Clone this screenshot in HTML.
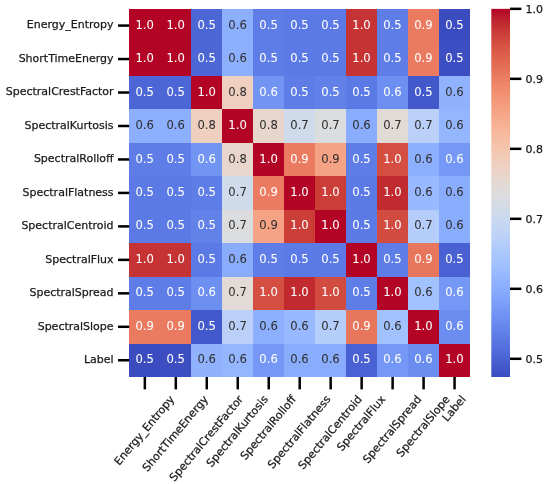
<!DOCTYPE html><html><head><meta charset="utf-8"><title>Correlation heatmap</title>
<style>html,body{margin:0;padding:0;background:#fff}svg{display:block;filter:blur(0.35px)}text{font-family:"DejaVu Sans","Liberation Sans",sans-serif}</style></head><body>
<svg width="550" height="484" viewBox="0 0 550 484">
<defs><linearGradient id="cb" x1="0" y1="1" x2="0" y2="0">
<stop offset="0.0000" stop-color="#3b4cc0"/>
<stop offset="0.0312" stop-color="#445acc"/>
<stop offset="0.0625" stop-color="#4e68d8"/>
<stop offset="0.0938" stop-color="#5875e1"/>
<stop offset="0.1250" stop-color="#6282ea"/>
<stop offset="0.1562" stop-color="#6c8ff1"/>
<stop offset="0.1875" stop-color="#779af7"/>
<stop offset="0.2188" stop-color="#82a6fb"/>
<stop offset="0.2500" stop-color="#8db0fe"/>
<stop offset="0.2812" stop-color="#98b9ff"/>
<stop offset="0.3125" stop-color="#a3c2fe"/>
<stop offset="0.3438" stop-color="#aec9fc"/>
<stop offset="0.3750" stop-color="#b9d0f9"/>
<stop offset="0.4062" stop-color="#c3d5f4"/>
<stop offset="0.4375" stop-color="#ccd9ed"/>
<stop offset="0.4688" stop-color="#d5dbe5"/>
<stop offset="0.5000" stop-color="#dddcdc"/>
<stop offset="0.5312" stop-color="#e5d8d1"/>
<stop offset="0.5625" stop-color="#ecd3c5"/>
<stop offset="0.5938" stop-color="#f1ccb8"/>
<stop offset="0.6250" stop-color="#f5c4ac"/>
<stop offset="0.6562" stop-color="#f7ba9f"/>
<stop offset="0.6875" stop-color="#f7b093"/>
<stop offset="0.7188" stop-color="#f6a586"/>
<stop offset="0.7500" stop-color="#f4987a"/>
<stop offset="0.7812" stop-color="#f08b6e"/>
<stop offset="0.8125" stop-color="#eb7d62"/>
<stop offset="0.8438" stop-color="#e46e56"/>
<stop offset="0.8750" stop-color="#dd5f4b"/>
<stop offset="0.9062" stop-color="#d44e41"/>
<stop offset="0.9375" stop-color="#ca3b37"/>
<stop offset="0.9688" stop-color="#be242e"/>
<stop offset="1.0000" stop-color="#b40426"/>
</linearGradient></defs>
<rect width="550" height="484" fill="#fff"/>
<g shape-rendering="crispEdges">
<rect x="129.20" y="8.85" width="31.27" height="33.77" fill="#b40426"/>
<rect x="160.17" y="8.85" width="31.27" height="33.77" fill="#b40426"/>
<rect x="191.15" y="8.85" width="31.27" height="33.77" fill="#4c66d6"/>
<rect x="222.12" y="8.85" width="31.27" height="33.77" fill="#8caffe"/>
<rect x="253.09" y="8.85" width="31.27" height="33.77" fill="#5e7de7"/>
<rect x="284.06" y="8.85" width="31.27" height="33.77" fill="#5b7ae5"/>
<rect x="315.04" y="8.85" width="31.27" height="33.77" fill="#5b7ae5"/>
<rect x="346.01" y="8.85" width="31.27" height="33.77" fill="#c53334"/>
<rect x="376.98" y="8.85" width="31.27" height="33.77" fill="#5e7de7"/>
<rect x="407.95" y="8.85" width="31.27" height="33.77" fill="#ea7b60"/>
<rect x="438.93" y="8.85" width="30.97" height="33.77" fill="#3b4cc0"/>
<rect x="129.20" y="42.32" width="31.27" height="33.77" fill="#b40426"/>
<rect x="160.17" y="42.32" width="31.27" height="33.77" fill="#b40426"/>
<rect x="191.15" y="42.32" width="31.27" height="33.77" fill="#4c66d6"/>
<rect x="222.12" y="42.32" width="31.27" height="33.77" fill="#8caffe"/>
<rect x="253.09" y="42.32" width="31.27" height="33.77" fill="#5e7de7"/>
<rect x="284.06" y="42.32" width="31.27" height="33.77" fill="#5b7ae5"/>
<rect x="315.04" y="42.32" width="31.27" height="33.77" fill="#5b7ae5"/>
<rect x="346.01" y="42.32" width="31.27" height="33.77" fill="#c53334"/>
<rect x="376.98" y="42.32" width="31.27" height="33.77" fill="#5e7de7"/>
<rect x="407.95" y="42.32" width="31.27" height="33.77" fill="#ea7b60"/>
<rect x="438.93" y="42.32" width="30.97" height="33.77" fill="#3c4ec2"/>
<rect x="129.20" y="75.79" width="31.27" height="33.77" fill="#4c66d6"/>
<rect x="160.17" y="75.79" width="31.27" height="33.77" fill="#4c66d6"/>
<rect x="191.15" y="75.79" width="31.27" height="33.77" fill="#b40426"/>
<rect x="222.12" y="75.79" width="31.27" height="33.77" fill="#efcfbf"/>
<rect x="253.09" y="75.79" width="31.27" height="33.77" fill="#7295f4"/>
<rect x="284.06" y="75.79" width="31.27" height="33.77" fill="#5e7de7"/>
<rect x="315.04" y="75.79" width="31.27" height="33.77" fill="#6282ea"/>
<rect x="346.01" y="75.79" width="31.27" height="33.77" fill="#5b7ae5"/>
<rect x="376.98" y="75.79" width="31.27" height="33.77" fill="#6c8ff1"/>
<rect x="407.95" y="75.79" width="31.27" height="33.77" fill="#4358cb"/>
<rect x="438.93" y="75.79" width="30.97" height="33.77" fill="#90b2fe"/>
<rect x="129.20" y="109.25" width="31.27" height="33.77" fill="#8caffe"/>
<rect x="160.17" y="109.25" width="31.27" height="33.77" fill="#8caffe"/>
<rect x="191.15" y="109.25" width="31.27" height="33.77" fill="#efcfbf"/>
<rect x="222.12" y="109.25" width="31.27" height="33.77" fill="#b40426"/>
<rect x="253.09" y="109.25" width="31.27" height="33.77" fill="#e8d6cc"/>
<rect x="284.06" y="109.25" width="31.27" height="33.77" fill="#cfdaea"/>
<rect x="315.04" y="109.25" width="31.27" height="33.77" fill="#dbdcde"/>
<rect x="346.01" y="109.25" width="31.27" height="33.77" fill="#89acfd"/>
<rect x="376.98" y="109.25" width="31.27" height="33.77" fill="#e2dad5"/>
<rect x="407.95" y="109.25" width="31.27" height="33.77" fill="#bad0f8"/>
<rect x="438.93" y="109.25" width="30.97" height="33.77" fill="#94b6ff"/>
<rect x="129.20" y="142.72" width="31.27" height="33.77" fill="#5e7de7"/>
<rect x="160.17" y="142.72" width="31.27" height="33.77" fill="#5e7de7"/>
<rect x="191.15" y="142.72" width="31.27" height="33.77" fill="#7295f4"/>
<rect x="222.12" y="142.72" width="31.27" height="33.77" fill="#e8d6cc"/>
<rect x="253.09" y="142.72" width="31.27" height="33.77" fill="#b40426"/>
<rect x="284.06" y="142.72" width="31.27" height="33.77" fill="#ea7b60"/>
<rect x="315.04" y="142.72" width="31.27" height="33.77" fill="#f6a385"/>
<rect x="346.01" y="142.72" width="31.27" height="33.77" fill="#5e7de7"/>
<rect x="376.98" y="142.72" width="31.27" height="33.77" fill="#d44e41"/>
<rect x="407.95" y="142.72" width="31.27" height="33.77" fill="#8db0fe"/>
<rect x="438.93" y="142.72" width="30.97" height="33.77" fill="#7597f6"/>
<rect x="129.20" y="176.19" width="31.27" height="33.77" fill="#5b7ae5"/>
<rect x="160.17" y="176.19" width="31.27" height="33.77" fill="#5b7ae5"/>
<rect x="191.15" y="176.19" width="31.27" height="33.77" fill="#5e7de7"/>
<rect x="222.12" y="176.19" width="31.27" height="33.77" fill="#cfdaea"/>
<rect x="253.09" y="176.19" width="31.27" height="33.77" fill="#ea7b60"/>
<rect x="284.06" y="176.19" width="31.27" height="33.77" fill="#b40426"/>
<rect x="315.04" y="176.19" width="31.27" height="33.77" fill="#cb3e38"/>
<rect x="346.01" y="176.19" width="31.27" height="33.77" fill="#5b7ae5"/>
<rect x="376.98" y="176.19" width="31.27" height="33.77" fill="#c12b30"/>
<rect x="407.95" y="176.19" width="31.27" height="33.77" fill="#98b9ff"/>
<rect x="438.93" y="176.19" width="30.97" height="33.77" fill="#89acfd"/>
<rect x="129.20" y="209.66" width="31.27" height="33.77" fill="#5b7ae5"/>
<rect x="160.17" y="209.66" width="31.27" height="33.77" fill="#5b7ae5"/>
<rect x="191.15" y="209.66" width="31.27" height="33.77" fill="#6282ea"/>
<rect x="222.12" y="209.66" width="31.27" height="33.77" fill="#dbdcde"/>
<rect x="253.09" y="209.66" width="31.27" height="33.77" fill="#f6a385"/>
<rect x="284.06" y="209.66" width="31.27" height="33.77" fill="#cb3e38"/>
<rect x="315.04" y="209.66" width="31.27" height="33.77" fill="#b40426"/>
<rect x="346.01" y="209.66" width="31.27" height="33.77" fill="#5b7ae5"/>
<rect x="376.98" y="209.66" width="31.27" height="33.77" fill="#d24b40"/>
<rect x="407.95" y="209.66" width="31.27" height="33.77" fill="#b5cdfa"/>
<rect x="438.93" y="209.66" width="30.97" height="33.77" fill="#89acfd"/>
<rect x="129.20" y="243.13" width="31.27" height="33.77" fill="#c53334"/>
<rect x="160.17" y="243.13" width="31.27" height="33.77" fill="#c53334"/>
<rect x="191.15" y="243.13" width="31.27" height="33.77" fill="#5b7ae5"/>
<rect x="222.12" y="243.13" width="31.27" height="33.77" fill="#89acfd"/>
<rect x="253.09" y="243.13" width="31.27" height="33.77" fill="#5e7de7"/>
<rect x="284.06" y="243.13" width="31.27" height="33.77" fill="#5b7ae5"/>
<rect x="315.04" y="243.13" width="31.27" height="33.77" fill="#5b7ae5"/>
<rect x="346.01" y="243.13" width="31.27" height="33.77" fill="#b40426"/>
<rect x="376.98" y="243.13" width="31.27" height="33.77" fill="#5e7de7"/>
<rect x="407.95" y="243.13" width="31.27" height="33.77" fill="#e8765c"/>
<rect x="438.93" y="243.13" width="30.97" height="33.77" fill="#4961d2"/>
<rect x="129.20" y="276.60" width="31.27" height="33.77" fill="#5e7de7"/>
<rect x="160.17" y="276.60" width="31.27" height="33.77" fill="#5e7de7"/>
<rect x="191.15" y="276.60" width="31.27" height="33.77" fill="#6c8ff1"/>
<rect x="222.12" y="276.60" width="31.27" height="33.77" fill="#e2dad5"/>
<rect x="253.09" y="276.60" width="31.27" height="33.77" fill="#d44e41"/>
<rect x="284.06" y="276.60" width="31.27" height="33.77" fill="#c12b30"/>
<rect x="315.04" y="276.60" width="31.27" height="33.77" fill="#d24b40"/>
<rect x="346.01" y="276.60" width="31.27" height="33.77" fill="#5e7de7"/>
<rect x="376.98" y="276.60" width="31.27" height="33.77" fill="#b40426"/>
<rect x="407.95" y="276.60" width="31.27" height="33.77" fill="#a2c1ff"/>
<rect x="438.93" y="276.60" width="30.97" height="33.77" fill="#7597f6"/>
<rect x="129.20" y="310.06" width="31.27" height="33.77" fill="#ea7b60"/>
<rect x="160.17" y="310.06" width="31.27" height="33.77" fill="#ea7b60"/>
<rect x="191.15" y="310.06" width="31.27" height="33.77" fill="#4358cb"/>
<rect x="222.12" y="310.06" width="31.27" height="33.77" fill="#bad0f8"/>
<rect x="253.09" y="310.06" width="31.27" height="33.77" fill="#8db0fe"/>
<rect x="284.06" y="310.06" width="31.27" height="33.77" fill="#98b9ff"/>
<rect x="315.04" y="310.06" width="31.27" height="33.77" fill="#b5cdfa"/>
<rect x="346.01" y="310.06" width="31.27" height="33.77" fill="#e8765c"/>
<rect x="376.98" y="310.06" width="31.27" height="33.77" fill="#a2c1ff"/>
<rect x="407.95" y="310.06" width="31.27" height="33.77" fill="#b40426"/>
<rect x="438.93" y="310.06" width="30.97" height="33.77" fill="#6b8df0"/>
<rect x="129.20" y="343.53" width="31.27" height="33.47" fill="#3b4cc0"/>
<rect x="160.17" y="343.53" width="31.27" height="33.47" fill="#3c4ec2"/>
<rect x="191.15" y="343.53" width="31.27" height="33.47" fill="#90b2fe"/>
<rect x="222.12" y="343.53" width="31.27" height="33.47" fill="#94b6ff"/>
<rect x="253.09" y="343.53" width="31.27" height="33.47" fill="#7597f6"/>
<rect x="284.06" y="343.53" width="31.27" height="33.47" fill="#89acfd"/>
<rect x="315.04" y="343.53" width="31.27" height="33.47" fill="#89acfd"/>
<rect x="346.01" y="343.53" width="31.27" height="33.47" fill="#4961d2"/>
<rect x="376.98" y="343.53" width="31.27" height="33.47" fill="#7597f6"/>
<rect x="407.95" y="343.53" width="31.27" height="33.47" fill="#6b8df0"/>
<rect x="438.93" y="343.53" width="30.97" height="33.47" fill="#b40426"/>
</g>
<g font-size="11.60" text-anchor="middle" stroke-width="0.05">
<text x="144.69" y="28.68" fill="#ffffff" stroke="#ffffff">1.0</text>
<text x="175.66" y="28.68" fill="#ffffff" stroke="#ffffff">1.0</text>
<text x="206.63" y="28.68" fill="#ffffff" stroke="#ffffff">0.5</text>
<text x="237.60" y="28.68" fill="#303030" stroke="#303030">0.6</text>
<text x="268.58" y="28.68" fill="#ffffff" stroke="#ffffff">0.5</text>
<text x="299.55" y="28.68" fill="#ffffff" stroke="#ffffff">0.5</text>
<text x="330.52" y="28.68" fill="#ffffff" stroke="#ffffff">0.5</text>
<text x="361.50" y="28.68" fill="#ffffff" stroke="#ffffff">1.0</text>
<text x="392.47" y="28.68" fill="#ffffff" stroke="#ffffff">0.5</text>
<text x="423.44" y="28.68" fill="#ffffff" stroke="#ffffff">0.9</text>
<text x="454.41" y="28.68" fill="#ffffff" stroke="#ffffff">0.5</text>
<text x="144.69" y="62.15" fill="#ffffff" stroke="#ffffff">1.0</text>
<text x="175.66" y="62.15" fill="#ffffff" stroke="#ffffff">1.0</text>
<text x="206.63" y="62.15" fill="#ffffff" stroke="#ffffff">0.5</text>
<text x="237.60" y="62.15" fill="#303030" stroke="#303030">0.6</text>
<text x="268.58" y="62.15" fill="#ffffff" stroke="#ffffff">0.5</text>
<text x="299.55" y="62.15" fill="#ffffff" stroke="#ffffff">0.5</text>
<text x="330.52" y="62.15" fill="#ffffff" stroke="#ffffff">0.5</text>
<text x="361.50" y="62.15" fill="#ffffff" stroke="#ffffff">1.0</text>
<text x="392.47" y="62.15" fill="#ffffff" stroke="#ffffff">0.5</text>
<text x="423.44" y="62.15" fill="#ffffff" stroke="#ffffff">0.9</text>
<text x="454.41" y="62.15" fill="#ffffff" stroke="#ffffff">0.5</text>
<text x="144.69" y="95.62" fill="#ffffff" stroke="#ffffff">0.5</text>
<text x="175.66" y="95.62" fill="#ffffff" stroke="#ffffff">0.5</text>
<text x="206.63" y="95.62" fill="#ffffff" stroke="#ffffff">1.0</text>
<text x="237.60" y="95.62" fill="#303030" stroke="#303030">0.8</text>
<text x="268.58" y="95.62" fill="#ffffff" stroke="#ffffff">0.6</text>
<text x="299.55" y="95.62" fill="#ffffff" stroke="#ffffff">0.5</text>
<text x="330.52" y="95.62" fill="#ffffff" stroke="#ffffff">0.5</text>
<text x="361.50" y="95.62" fill="#ffffff" stroke="#ffffff">0.5</text>
<text x="392.47" y="95.62" fill="#ffffff" stroke="#ffffff">0.6</text>
<text x="423.44" y="95.62" fill="#ffffff" stroke="#ffffff">0.5</text>
<text x="454.41" y="95.62" fill="#303030" stroke="#303030">0.6</text>
<text x="144.69" y="129.09" fill="#303030" stroke="#303030">0.6</text>
<text x="175.66" y="129.09" fill="#303030" stroke="#303030">0.6</text>
<text x="206.63" y="129.09" fill="#303030" stroke="#303030">0.8</text>
<text x="237.60" y="129.09" fill="#ffffff" stroke="#ffffff">1.0</text>
<text x="268.58" y="129.09" fill="#303030" stroke="#303030">0.8</text>
<text x="299.55" y="129.09" fill="#303030" stroke="#303030">0.7</text>
<text x="330.52" y="129.09" fill="#303030" stroke="#303030">0.7</text>
<text x="361.50" y="129.09" fill="#303030" stroke="#303030">0.6</text>
<text x="392.47" y="129.09" fill="#303030" stroke="#303030">0.7</text>
<text x="423.44" y="129.09" fill="#303030" stroke="#303030">0.7</text>
<text x="454.41" y="129.09" fill="#303030" stroke="#303030">0.6</text>
<text x="144.69" y="162.56" fill="#ffffff" stroke="#ffffff">0.5</text>
<text x="175.66" y="162.56" fill="#ffffff" stroke="#ffffff">0.5</text>
<text x="206.63" y="162.56" fill="#ffffff" stroke="#ffffff">0.6</text>
<text x="237.60" y="162.56" fill="#303030" stroke="#303030">0.8</text>
<text x="268.58" y="162.56" fill="#ffffff" stroke="#ffffff">1.0</text>
<text x="299.55" y="162.56" fill="#ffffff" stroke="#ffffff">0.9</text>
<text x="330.52" y="162.56" fill="#303030" stroke="#303030">0.9</text>
<text x="361.50" y="162.56" fill="#ffffff" stroke="#ffffff">0.5</text>
<text x="392.47" y="162.56" fill="#ffffff" stroke="#ffffff">1.0</text>
<text x="423.44" y="162.56" fill="#303030" stroke="#303030">0.6</text>
<text x="454.41" y="162.56" fill="#ffffff" stroke="#ffffff">0.6</text>
<text x="144.69" y="196.02" fill="#ffffff" stroke="#ffffff">0.5</text>
<text x="175.66" y="196.02" fill="#ffffff" stroke="#ffffff">0.5</text>
<text x="206.63" y="196.02" fill="#ffffff" stroke="#ffffff">0.5</text>
<text x="237.60" y="196.02" fill="#303030" stroke="#303030">0.7</text>
<text x="268.58" y="196.02" fill="#ffffff" stroke="#ffffff">0.9</text>
<text x="299.55" y="196.02" fill="#ffffff" stroke="#ffffff">1.0</text>
<text x="330.52" y="196.02" fill="#ffffff" stroke="#ffffff">1.0</text>
<text x="361.50" y="196.02" fill="#ffffff" stroke="#ffffff">0.5</text>
<text x="392.47" y="196.02" fill="#ffffff" stroke="#ffffff">1.0</text>
<text x="423.44" y="196.02" fill="#303030" stroke="#303030">0.6</text>
<text x="454.41" y="196.02" fill="#303030" stroke="#303030">0.6</text>
<text x="144.69" y="229.49" fill="#ffffff" stroke="#ffffff">0.5</text>
<text x="175.66" y="229.49" fill="#ffffff" stroke="#ffffff">0.5</text>
<text x="206.63" y="229.49" fill="#ffffff" stroke="#ffffff">0.5</text>
<text x="237.60" y="229.49" fill="#303030" stroke="#303030">0.7</text>
<text x="268.58" y="229.49" fill="#303030" stroke="#303030">0.9</text>
<text x="299.55" y="229.49" fill="#ffffff" stroke="#ffffff">1.0</text>
<text x="330.52" y="229.49" fill="#ffffff" stroke="#ffffff">1.0</text>
<text x="361.50" y="229.49" fill="#ffffff" stroke="#ffffff">0.5</text>
<text x="392.47" y="229.49" fill="#ffffff" stroke="#ffffff">1.0</text>
<text x="423.44" y="229.49" fill="#303030" stroke="#303030">0.7</text>
<text x="454.41" y="229.49" fill="#303030" stroke="#303030">0.6</text>
<text x="144.69" y="262.96" fill="#ffffff" stroke="#ffffff">1.0</text>
<text x="175.66" y="262.96" fill="#ffffff" stroke="#ffffff">1.0</text>
<text x="206.63" y="262.96" fill="#ffffff" stroke="#ffffff">0.5</text>
<text x="237.60" y="262.96" fill="#303030" stroke="#303030">0.6</text>
<text x="268.58" y="262.96" fill="#ffffff" stroke="#ffffff">0.5</text>
<text x="299.55" y="262.96" fill="#ffffff" stroke="#ffffff">0.5</text>
<text x="330.52" y="262.96" fill="#ffffff" stroke="#ffffff">0.5</text>
<text x="361.50" y="262.96" fill="#ffffff" stroke="#ffffff">1.0</text>
<text x="392.47" y="262.96" fill="#ffffff" stroke="#ffffff">0.5</text>
<text x="423.44" y="262.96" fill="#ffffff" stroke="#ffffff">0.9</text>
<text x="454.41" y="262.96" fill="#ffffff" stroke="#ffffff">0.5</text>
<text x="144.69" y="296.43" fill="#ffffff" stroke="#ffffff">0.5</text>
<text x="175.66" y="296.43" fill="#ffffff" stroke="#ffffff">0.5</text>
<text x="206.63" y="296.43" fill="#ffffff" stroke="#ffffff">0.6</text>
<text x="237.60" y="296.43" fill="#303030" stroke="#303030">0.7</text>
<text x="268.58" y="296.43" fill="#ffffff" stroke="#ffffff">1.0</text>
<text x="299.55" y="296.43" fill="#ffffff" stroke="#ffffff">1.0</text>
<text x="330.52" y="296.43" fill="#ffffff" stroke="#ffffff">1.0</text>
<text x="361.50" y="296.43" fill="#ffffff" stroke="#ffffff">0.5</text>
<text x="392.47" y="296.43" fill="#ffffff" stroke="#ffffff">1.0</text>
<text x="423.44" y="296.43" fill="#303030" stroke="#303030">0.6</text>
<text x="454.41" y="296.43" fill="#ffffff" stroke="#ffffff">0.6</text>
<text x="144.69" y="329.90" fill="#ffffff" stroke="#ffffff">0.9</text>
<text x="175.66" y="329.90" fill="#ffffff" stroke="#ffffff">0.9</text>
<text x="206.63" y="329.90" fill="#ffffff" stroke="#ffffff">0.5</text>
<text x="237.60" y="329.90" fill="#303030" stroke="#303030">0.7</text>
<text x="268.58" y="329.90" fill="#303030" stroke="#303030">0.6</text>
<text x="299.55" y="329.90" fill="#303030" stroke="#303030">0.6</text>
<text x="330.52" y="329.90" fill="#303030" stroke="#303030">0.7</text>
<text x="361.50" y="329.90" fill="#ffffff" stroke="#ffffff">0.9</text>
<text x="392.47" y="329.90" fill="#303030" stroke="#303030">0.6</text>
<text x="423.44" y="329.90" fill="#ffffff" stroke="#ffffff">1.0</text>
<text x="454.41" y="329.90" fill="#ffffff" stroke="#ffffff">0.6</text>
<text x="144.69" y="363.37" fill="#ffffff" stroke="#ffffff">0.5</text>
<text x="175.66" y="363.37" fill="#ffffff" stroke="#ffffff">0.5</text>
<text x="206.63" y="363.37" fill="#303030" stroke="#303030">0.6</text>
<text x="237.60" y="363.37" fill="#303030" stroke="#303030">0.6</text>
<text x="268.58" y="363.37" fill="#ffffff" stroke="#ffffff">0.6</text>
<text x="299.55" y="363.37" fill="#303030" stroke="#303030">0.6</text>
<text x="330.52" y="363.37" fill="#303030" stroke="#303030">0.6</text>
<text x="361.50" y="363.37" fill="#ffffff" stroke="#ffffff">0.5</text>
<text x="392.47" y="363.37" fill="#ffffff" stroke="#ffffff">0.6</text>
<text x="423.44" y="363.37" fill="#ffffff" stroke="#ffffff">0.6</text>
<text x="454.41" y="363.37" fill="#ffffff" stroke="#ffffff">1.0</text>
</g>
<g stroke="#000" stroke-width="2.50">
<line x1="118.00" y1="25.58" x2="129.20" y2="25.58"/>
<line x1="118.00" y1="59.05" x2="129.20" y2="59.05"/>
<line x1="118.00" y1="92.52" x2="129.20" y2="92.52"/>
<line x1="118.00" y1="125.99" x2="129.20" y2="125.99"/>
<line x1="118.00" y1="159.46" x2="129.20" y2="159.46"/>
<line x1="118.00" y1="192.92" x2="129.20" y2="192.92"/>
<line x1="118.00" y1="226.39" x2="129.20" y2="226.39"/>
<line x1="118.00" y1="259.86" x2="129.20" y2="259.86"/>
<line x1="118.00" y1="293.33" x2="129.20" y2="293.33"/>
<line x1="118.00" y1="326.80" x2="129.20" y2="326.80"/>
<line x1="118.00" y1="360.27" x2="129.20" y2="360.27"/>
<line x1="144.84" y1="377.00" x2="144.84" y2="389.40"/>
<line x1="175.81" y1="377.00" x2="175.81" y2="389.40"/>
<line x1="206.78" y1="377.00" x2="206.78" y2="389.40"/>
<line x1="237.75" y1="377.00" x2="237.75" y2="389.40"/>
<line x1="268.73" y1="377.00" x2="268.73" y2="389.40"/>
<line x1="299.70" y1="377.00" x2="299.70" y2="389.40"/>
<line x1="330.67" y1="377.00" x2="330.67" y2="389.40"/>
<line x1="361.65" y1="377.00" x2="361.65" y2="389.40"/>
<line x1="392.62" y1="377.00" x2="392.62" y2="389.40"/>
<line x1="423.59" y1="377.00" x2="423.59" y2="389.40"/>
<line x1="454.56" y1="377.00" x2="454.56" y2="389.40"/>
</g>
<g font-size="11.00" fill="#1a1a1a" stroke="#1a1a1a" stroke-width="0.25" text-anchor="end">
<text x="113.60" y="28.38">Energy_Entropy</text>
<text x="113.60" y="61.85">ShortTimeEnergy</text>
<text x="113.60" y="95.32">SpectralCrestFactor</text>
<text x="113.60" y="128.79">SpectralKurtosis</text>
<text x="113.60" y="162.26">SpectralRolloff</text>
<text x="113.60" y="195.72">SpectralFlatness</text>
<text x="113.60" y="229.19">SpectralCentroid</text>
<text x="113.60" y="262.66">SpectralFlux</text>
<text x="113.60" y="296.13">SpectralSpread</text>
<text x="113.60" y="329.60">SpectralSlope</text>
<text x="113.60" y="363.07">Label</text>
</g>
<g font-size="11.00" fill="#1a1a1a" stroke="#1a1a1a" stroke-width="0.25" text-anchor="middle">
<text transform="translate(144.69 430.63) rotate(-50)" x="0" y="3.20">Energy_Entropy</text>
<text transform="translate(175.66 433.77) rotate(-50)" x="0" y="3.20">ShortTimeEnergy</text>
<text transform="translate(206.63 438.71) rotate(-50)" x="0" y="3.20">SpectralCrestFactor</text>
<text transform="translate(237.60 431.54) rotate(-50)" x="0" y="3.20">SpectralKurtosis</text>
<text transform="translate(268.58 427.94) rotate(-50)" x="0" y="3.20">SpectralRolloff</text>
<text transform="translate(299.55 432.28) rotate(-50)" x="0" y="3.20">SpectralFlatness</text>
<text transform="translate(330.52 432.72) rotate(-50)" x="0" y="3.20">SpectralCentroid</text>
<text transform="translate(361.50 423.55) rotate(-50)" x="0" y="3.20">SpectralFlux</text>
<text transform="translate(392.47 429.63) rotate(-50)" x="0" y="3.20">SpectralSpread</text>
<text transform="translate(423.44 426.49) rotate(-50)" x="0" y="3.20">SpectralSlope</text>
<text transform="translate(454.41 408.77) rotate(-50)" x="0" y="3.20">Label</text>
</g>
<rect x="491.30" y="8.85" width="18.70" height="368.15" fill="url(#cb)"/>
<g stroke="#000" stroke-width="2.50">
<line x1="510.00" y1="8.85" x2="521.40" y2="8.85"/>
<line x1="510.00" y1="78.84" x2="521.40" y2="78.84"/>
<line x1="510.00" y1="148.83" x2="521.40" y2="148.83"/>
<line x1="510.00" y1="218.82" x2="521.40" y2="218.82"/>
<line x1="510.00" y1="288.81" x2="521.40" y2="288.81"/>
<line x1="510.00" y1="358.80" x2="521.40" y2="358.80"/>
</g>
<g font-size="11.00" fill="#1a1a1a" stroke="#1a1a1a" stroke-width="0.25">
<text x="525.60" y="12.75">1.0</text>
<text x="525.60" y="82.74">0.9</text>
<text x="525.60" y="152.73">0.8</text>
<text x="525.60" y="222.72">0.7</text>
<text x="525.60" y="292.71">0.6</text>
<text x="525.60" y="362.70">0.5</text>
</g>
</svg></body></html>
